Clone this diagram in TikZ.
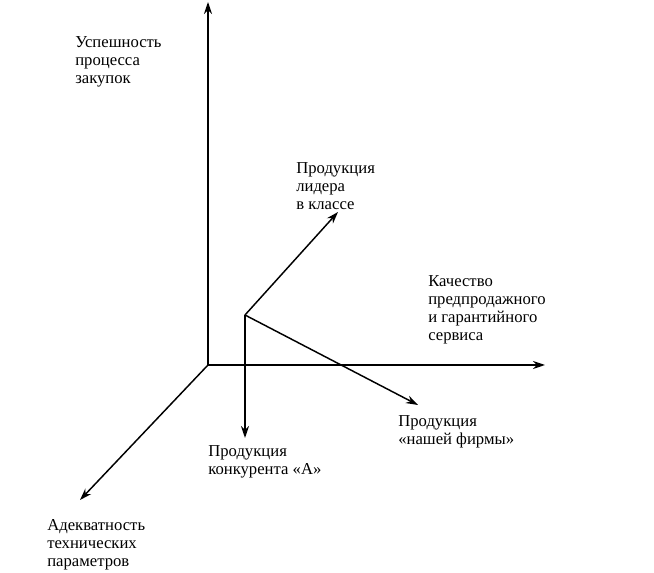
\documentclass[tikz,border=0pt]{standalone}
\usepackage{fontspec}
\setmainfont{Liberation Serif}
\usetikzlibrary{arrows.meta}
\begin{document}
\begin{tikzpicture}[x=0.75pt,y=-0.75pt,
  ax/.style={line width=1.1pt,-{Stealth[length=9pt,width=6pt]}},
  lbl/.style={align=left,anchor=north west,font=\fontsize{12.5pt}{13.5pt}\selectfont,inner sep=0pt}]
\useasboundingbox (0,0) rectangle (654,573);
\coordinate (O) at (208,365);
\coordinate (Y) at (208,2);
\coordinate (X) at (545,365);
\coordinate (Z) at (80,500);
\coordinate (P) at (245,315);
\coordinate (L) at (338,212);
\coordinate (A) at (245,438);
\coordinate (F) at (418,405);
\draw[ax] (O) -- (Y);
\draw[ax] (O) -- (X);
\draw[ax] (O) -- (Z);
\draw[ax] (P) -- (L);
\draw[ax] (P) -- (A);
\draw[ax] (P) -- (F);
\node[lbl] (t1) at (75,36) {Успешность\\процесса\\закупок};
\node[lbl] (t2) at (296,162) {Продукция\\лидера\\в классе};
\node[lbl] (t3) at (428,275) {Качество\\предпродажного\\и гарантийного\\сервиса};
\node[lbl] (t4) at (398,415) {Продукция\\«нашей фирмы»};
\node[lbl] (t5) at (208,445) {Продукция\\конкурента «А»};
\node[lbl] (t6) at (47,519) {Адекватность\\технических\\параметров};
\end{tikzpicture}
\end{document}
